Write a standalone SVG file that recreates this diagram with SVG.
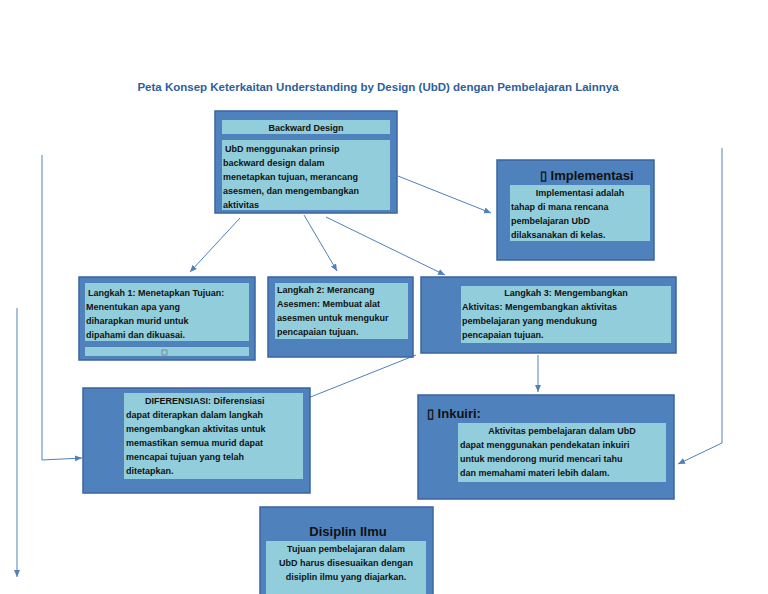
<svg xmlns="http://www.w3.org/2000/svg" width="768" height="594" viewBox="0 0 768 594">
<style>
.o{fill:#4f81bd;stroke:#3a64a0;stroke-width:1.5}
.i{fill:#92cddc}
.t{font-family:"Liberation Sans",Arial,sans-serif;font-size:9px;font-weight:bold;fill:#111}
.h{font-family:"Liberation Sans",Arial,sans-serif;font-size:13px;font-weight:bold;fill:#111}
.c{fill:none;stroke:#4f81bd;stroke-width:1;marker-end:url(#a)}
</style>
<defs><marker id="a" markerWidth="8" markerHeight="8" refX="7" refY="4" orient="auto" markerUnits="userSpaceOnUse"><path d="M0,1 L7,4 L0,7 Z" fill="#4f81bd"/></marker></defs>
<rect width="768" height="594" fill="#fff"/>
<text x="378" y="91" text-anchor="middle" font-family="Liberation Sans,Arial,sans-serif" font-size="11.5" font-weight="bold" fill="#2e5e9e">Peta Konsep Keterkaitan  Understanding by Design (UbD) dengan Pembelajaran Lainnya</text>
<g id="connectors">
<path class="c" d="M398,176 L491,213"/>
<path class="c" d="M240,218 L190,272"/>
<path class="c" d="M304,215 L337,271"/>
<path class="c" d="M326,217 L445,275"/>
<path class="c" d="M416,355 L298,402"/>
<path class="c" d="M538,355 L538,392"/>
<path class="c" d="M42,155 L42,460 L82,458"/>
<path class="c" d="M17,308 L17,577"/>
<path class="c" d="M722,148 L722,443 L678,464"/>
</g>
<g id="backward">
<rect class="o" x="215" y="111" width="182" height="102"/>
<rect class="i" x="222" y="120" width="168" height="14"/>
<text class="t" x="306" y="131" text-anchor="middle">Backward Design</text>
<rect class="i" x="222" y="140" width="168" height="70"/>
<text class="t" x="225" y="152">UbD menggunakan prinsip</text>
<text class="t" x="223" y="166">backward   design dalam</text>
<text class="t" x="223" y="180">menetapkan tujuan, merancang</text>
<text class="t" x="223" y="194">asesmen, dan mengembangkan</text>
<text class="t" x="223" y="208">aktivitas</text>
</g>
<g id="implementasi">
<rect class="o" x="497" y="160" width="157" height="100"/>
<text class="h" x="540" y="180">▯ Implementasi</text>
<rect class="i" x="510" y="185" width="140" height="56"/>
<text class="t" x="580" y="196" text-anchor="middle">Implementasi adalah</text>
<text class="t" x="511" y="210">tahap di mana rencana</text>
<text class="t" x="511" y="224">pembelajaran UbD</text>
<text class="t" x="511" y="238">dilaksanakan di kelas.</text>
</g>
<g id="langkah1">
<rect class="o" x="79" y="277" width="176" height="83"/>
<rect class="i" x="85" y="283" width="164" height="58"/>
<text class="t" x="88" y="296">Langkah 1: Menetapkan Tujuan:</text>
<text class="t" x="86" y="310">Menentukan apa yang</text>
<text class="t" x="86" y="324">diharapkan murid untuk</text>
<text class="t" x="86" y="338">dipahami dan dikuasai.</text>
<rect class="i" x="85" y="347" width="164" height="9"/>
<rect x="162" y="350" width="5" height="5" fill="none" stroke="#555" stroke-width="0.5"/>
</g>
<g id="langkah2">
<rect class="o" x="268" y="277" width="145" height="80"/>
<rect class="i" x="275" y="283" width="133" height="56"/>
<text class="t" x="277" y="293">Langkah 2: Merancang</text>
<text class="t" x="277" y="307">Asesmen: Membuat alat</text>
<text class="t" x="277" y="321">asesmen untuk mengukur</text>
<text class="t" x="277" y="335">pencapaian tujuan.</text>
</g>
<g id="langkah3">
<rect class="o" x="421" y="277" width="255" height="76"/>
<rect class="i" x="461" y="286" width="210" height="57"/>
<text class="t" x="566" y="296" text-anchor="middle">Langkah 3: Mengembangkan</text>
<text class="t" x="462" y="310">Aktivitas: Mengembangkan aktivitas</text>
<text class="t" x="462" y="324">pembelajaran yang mendukung</text>
<text class="t" x="462" y="338">pencapaian tujuan.</text>
</g>
<g id="diferensiasi">
<rect class="o" x="83" y="388" width="227" height="105"/>
<rect class="i" x="124" y="393" width="179" height="86"/>
<text class="t" x="145" y="404">DIFERENSIASI: Diferensiasi</text>
<text class="t" x="126" y="418">dapat diterapkan dalam langkah</text>
<text class="t" x="126" y="432">mengembangkan aktivitas untuk</text>
<text class="t" x="126" y="446">memastikan semua murid dapat</text>
<text class="t" x="126" y="460">mencapai tujuan yang telah</text>
<text class="t" x="126" y="474">ditetapkan.</text>
</g>
<g id="inkuiri">
<rect class="o" x="418" y="395" width="256" height="104"/>
<text class="h" x="427" y="418">▯ Inkuiri:</text>
<rect class="i" x="458" y="423" width="208" height="59"/>
<text class="t" x="562" y="434" text-anchor="middle">Aktivitas pembelajaran dalam UbD</text>
<text class="t" x="460" y="448">dapat menggunakan pendekatan inkuiri</text>
<text class="t" x="460" y="462">untuk mendorong murid mencari tahu</text>
<text class="t" x="460" y="476">dan memahami materi lebih dalam.</text>
</g>
<g id="disiplin">
<rect class="o" x="260" y="507" width="173" height="92"/>
<text class="h" x="348" y="536" text-anchor="middle">Disiplin Ilmu</text>
<rect class="i" x="266" y="541" width="160" height="53"/>
<text class="t" x="346" y="552" text-anchor="middle">Tujuan pembelajaran dalam</text>
<text class="t" x="346" y="566" text-anchor="middle">UbD harus disesuaikan dengan</text>
<text class="t" x="346" y="580" text-anchor="middle">disiplin ilmu yang diajarkan.</text>
</g>
</svg>
